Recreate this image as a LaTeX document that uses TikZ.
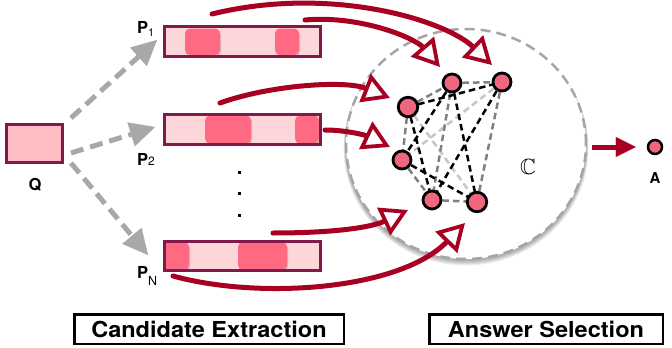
\documentclass[tikz,border=0pt]{standalone}
\usepackage{amssymb}
\usepackage{fontspec}
\setmainfont{TeX Gyre Heros}
\newfontfamily\stretchfont[FakeStretch=1.07]{TeX Gyre Heros}
\usetikzlibrary{arrows.meta,shapes.geometric}
\definecolor{boxedge}{RGB}{130,25,75}
\definecolor{qfill}{RGB}{255,190,196}
\definecolor{pfill}{RGB}{252,214,216}
\definecolor{hilite}{RGB}{255,105,130}
\definecolor{gfill}{RGB}{240,102,126}
\definecolor{arrred}{RGB}{168,0,35}
\definecolor{dgray}{RGB}{168,168,168}
\definecolor{cgray}{RGB}{165,165,165}
\begin{document}
\begin{tikzpicture}[x=1pt,y=-1pt,
  qbox/.style={draw=boxedge, line width=3pt, fill=qfill, inner sep=0, minimum width=56pt, minimum height=38pt},
  pbox/.style={fill=pfill, inner sep=0, minimum width=156pt, minimum height=29pt},
  pedge/.style={draw=boxedge, line width=3pt},
  hl/.style={fill=hilite, rounded corners=5pt},
  hlshadow/.style={fill=black, opacity=0.15, rounded corners=5pt},
  qarrow/.style={draw=dgray, line width=5pt, dash pattern=on 13pt off 7pt, -{Triangle[length=25pt,width=25pt,line width=0.1pt]}},
  redarrow/.style={draw=arrred, line width=5pt, line cap=round, -{Triangle[length=27pt,width=30pt,fill=white,line width=3.8pt]}},
  gnode/.style={circle, draw=black, line width=2.8pt, fill=gfill, inner sep=0, minimum size=18pt},
  bedge/.style={draw=black, line width=2.5pt, dash pattern=on 6.5pt off 4pt},
  gedge/.style={draw=black!50, line width=2.5pt, dash pattern=on 6.5pt off 4pt},
  ledge/.style={draw=black!22, line width=2.5pt, dash pattern=on 6.5pt off 4pt},
  lab/.style={font=\bfseries\fontsize{16.5}{16.5}\selectfont, inner sep=0},
  phase/.style={draw=black, line width=2.5pt, inner sep=0, minimum height=29.5pt, font=\stretchfont\bfseries\fontsize{22}{22}\selectfont}
]
\useasboundingbox (0,0) rectangle (672,348);

% question and passages
\node[qbox] (Q) at (34.5,143.5) {};
\node[lab] (Ql) at (35,185) {Q};

\node[pbox] (P1) at (242.5,41.5) {};
\node[pbox] (P2) at (242.5,129.5) {};
\node[pbox] (PN) at (242.5,256) {};

\foreach \a/\b/\c/\d in {185/28.5/220/55, 275/28.5/299/55, 205/115.5/251/143.5, 295/115.5/319/143.5, 164/242/189/270, 238/242/287/270}{
  \fill[hlshadow] (\a+1,\b+1.5) rectangle (\c+1,\d+1.5);
  \fill[hl] (\a,\b) rectangle (\c,\d);
}
\draw[pedge] (P1.north west) rectangle (P1.south east);
\draw[pedge] (P2.north west) rectangle (P2.south east);
\draw[pedge] (PN.north west) rectangle (PN.south east);

\node[lab, anchor=base west] (P1l) at (137,33) {P\raisebox{-3.5pt}{\fontsize{11}{11}\selectfont\mdseries 1}};
\node[lab, anchor=base west] (P2l) at (137,165) {P{\fontsize{12}{12}\selectfont\mdseries 2}};
\node[lab, anchor=base west] (PNl) at (137,278) {P\raisebox{-7pt}{\fontsize{12.5}{12.5}\selectfont\mdseries N}};

\foreach \y in {172,193,215} \fill (237.5,\y-1.5) rectangle (240.5,\y+1.5);

% gray dashed arrows
\coordinate (q1s) at (71,118); \coordinate (q1e) at (157,40);
\coordinate (q2s) at (71,153); \coordinate (q2e) at (155,127);
\coordinate (q3s) at (71,163); \coordinate (q3e) at (148,255);
\draw[qarrow] (q1s) -- (q1e);
\draw[qarrow] (q2s) -- (q2e);
\draw[qarrow] (q3s) -- (q3e);

% candidate set circle with soft shadow
\foreach \i in {1,...,5}{
  \pgfmathsetmacro{\rx}{120+0.5*\i}
  \pgfmathsetmacro{\ry}{115+0.5*\i}
  \pgfmathsetmacro{\cy}{145+0.6*\i}
  \fill[black, opacity=0.07] (466,\cy) ellipse [x radius=\rx, y radius=\ry];
}
\node[ellipse, fill=white, draw=cgray, line width=2.5pt, dash pattern=on 10pt off 6pt, minimum width=240pt, minimum height=230pt, inner sep=0] (C) at (466,144) {};
\node[inner sep=0] (Cl) at (528,167) {\fontsize{22}{22}\selectfont$\mathbb{C}$};

% graph
\coordinate (n1) at (452,83);
\coordinate (n2) at (502,82);
\coordinate (n3) at (408,107);
\coordinate (n4) at (402,160);
\coordinate (n5) at (432,200);
\coordinate (n6) at (477,202);
\draw[ledge] (n2) -- (n4);
\draw[ledge] (n3) -- (n6);
\draw[gedge] (n1) -- (n2);
\draw[gedge] (n3) -- (n1);
\draw[gedge] (n3) -- (n4);
\draw[gedge] (n1) -- (n5);
\draw[gedge] (n2) -- (n6);
\draw[gedge] (n4) -- (n5);
\draw[gedge] (n5) -- (n6);
\draw[bedge] (n3) -- (n2);
\draw[bedge] (n1) -- (n4);
\draw[bedge] (n3) -- (n5);
\draw[bedge] (n1) -- (n6);
\draw[bedge] (n2) -- (n5);
\draw[bedge] (n4) -- (n6);
\node[gnode] (g1) at (n1) {};
\node[gnode] (g2) at (n2) {};
\node[gnode, minimum size=19.5pt] (g3) at (n3) {};
\node[gnode] (g4) at (n4) {};
\node[gnode] (g5) at (n5) {};
\node[gnode, minimum size=19.5pt] (g6) at (n6) {};

% red arrows
\coordinate (ra) at (212,14);  \coordinate (rae) at (492,65);
\coordinate (rb) at (305,20);  \coordinate (rbe) at (440,67);
\coordinate (rc) at (220,103); \coordinate (rce) at (390,98);
\coordinate (rd) at (325,130); \coordinate (rde) at (390,147);
\coordinate (re) at (273,233); \coordinate (ree) at (408,210);
\coordinate (rf) at (173,276); \coordinate (rfe) at (465,223);
\draw[redarrow] (ra) .. controls (330,-15) and (445,20) .. (rae);
\draw[redarrow] (rb) .. controls (360,15) and (415,38) .. (rbe);
\draw[redarrow] (rc) .. controls (270,85) and (345,80) .. (rce);
\draw[redarrow] (rd) .. controls (345,130) and (365,135) .. (rde);
\draw[redarrow] (re) .. controls (330,233) and (370,228) .. (ree);
\draw[redarrow] (rf) .. controls (260,300) and (400,290) .. (rfe);

% answer
\node[gnode, minimum size=14pt, line width=2.5pt] (A) at (655,147) {};
\node[lab, font=\bfseries\fontsize{15}{15}\selectfont] (Al) at (655,178) {A};
\draw[draw=arrred, line width=5pt, -{Triangle[length=20pt,width=20pt,line width=0.1pt]}, shorten >=11pt] ([shift={(5,3)}]C.east) -- (A);

% phase boxes
\node[phase, minimum width=269.5pt] (ce) at (209,329) {Candidate Extraction};
\node[phase, minimum width=233.5pt] (as) at (546,329) {Answer Selection};
\end{tikzpicture}
\end{document}
